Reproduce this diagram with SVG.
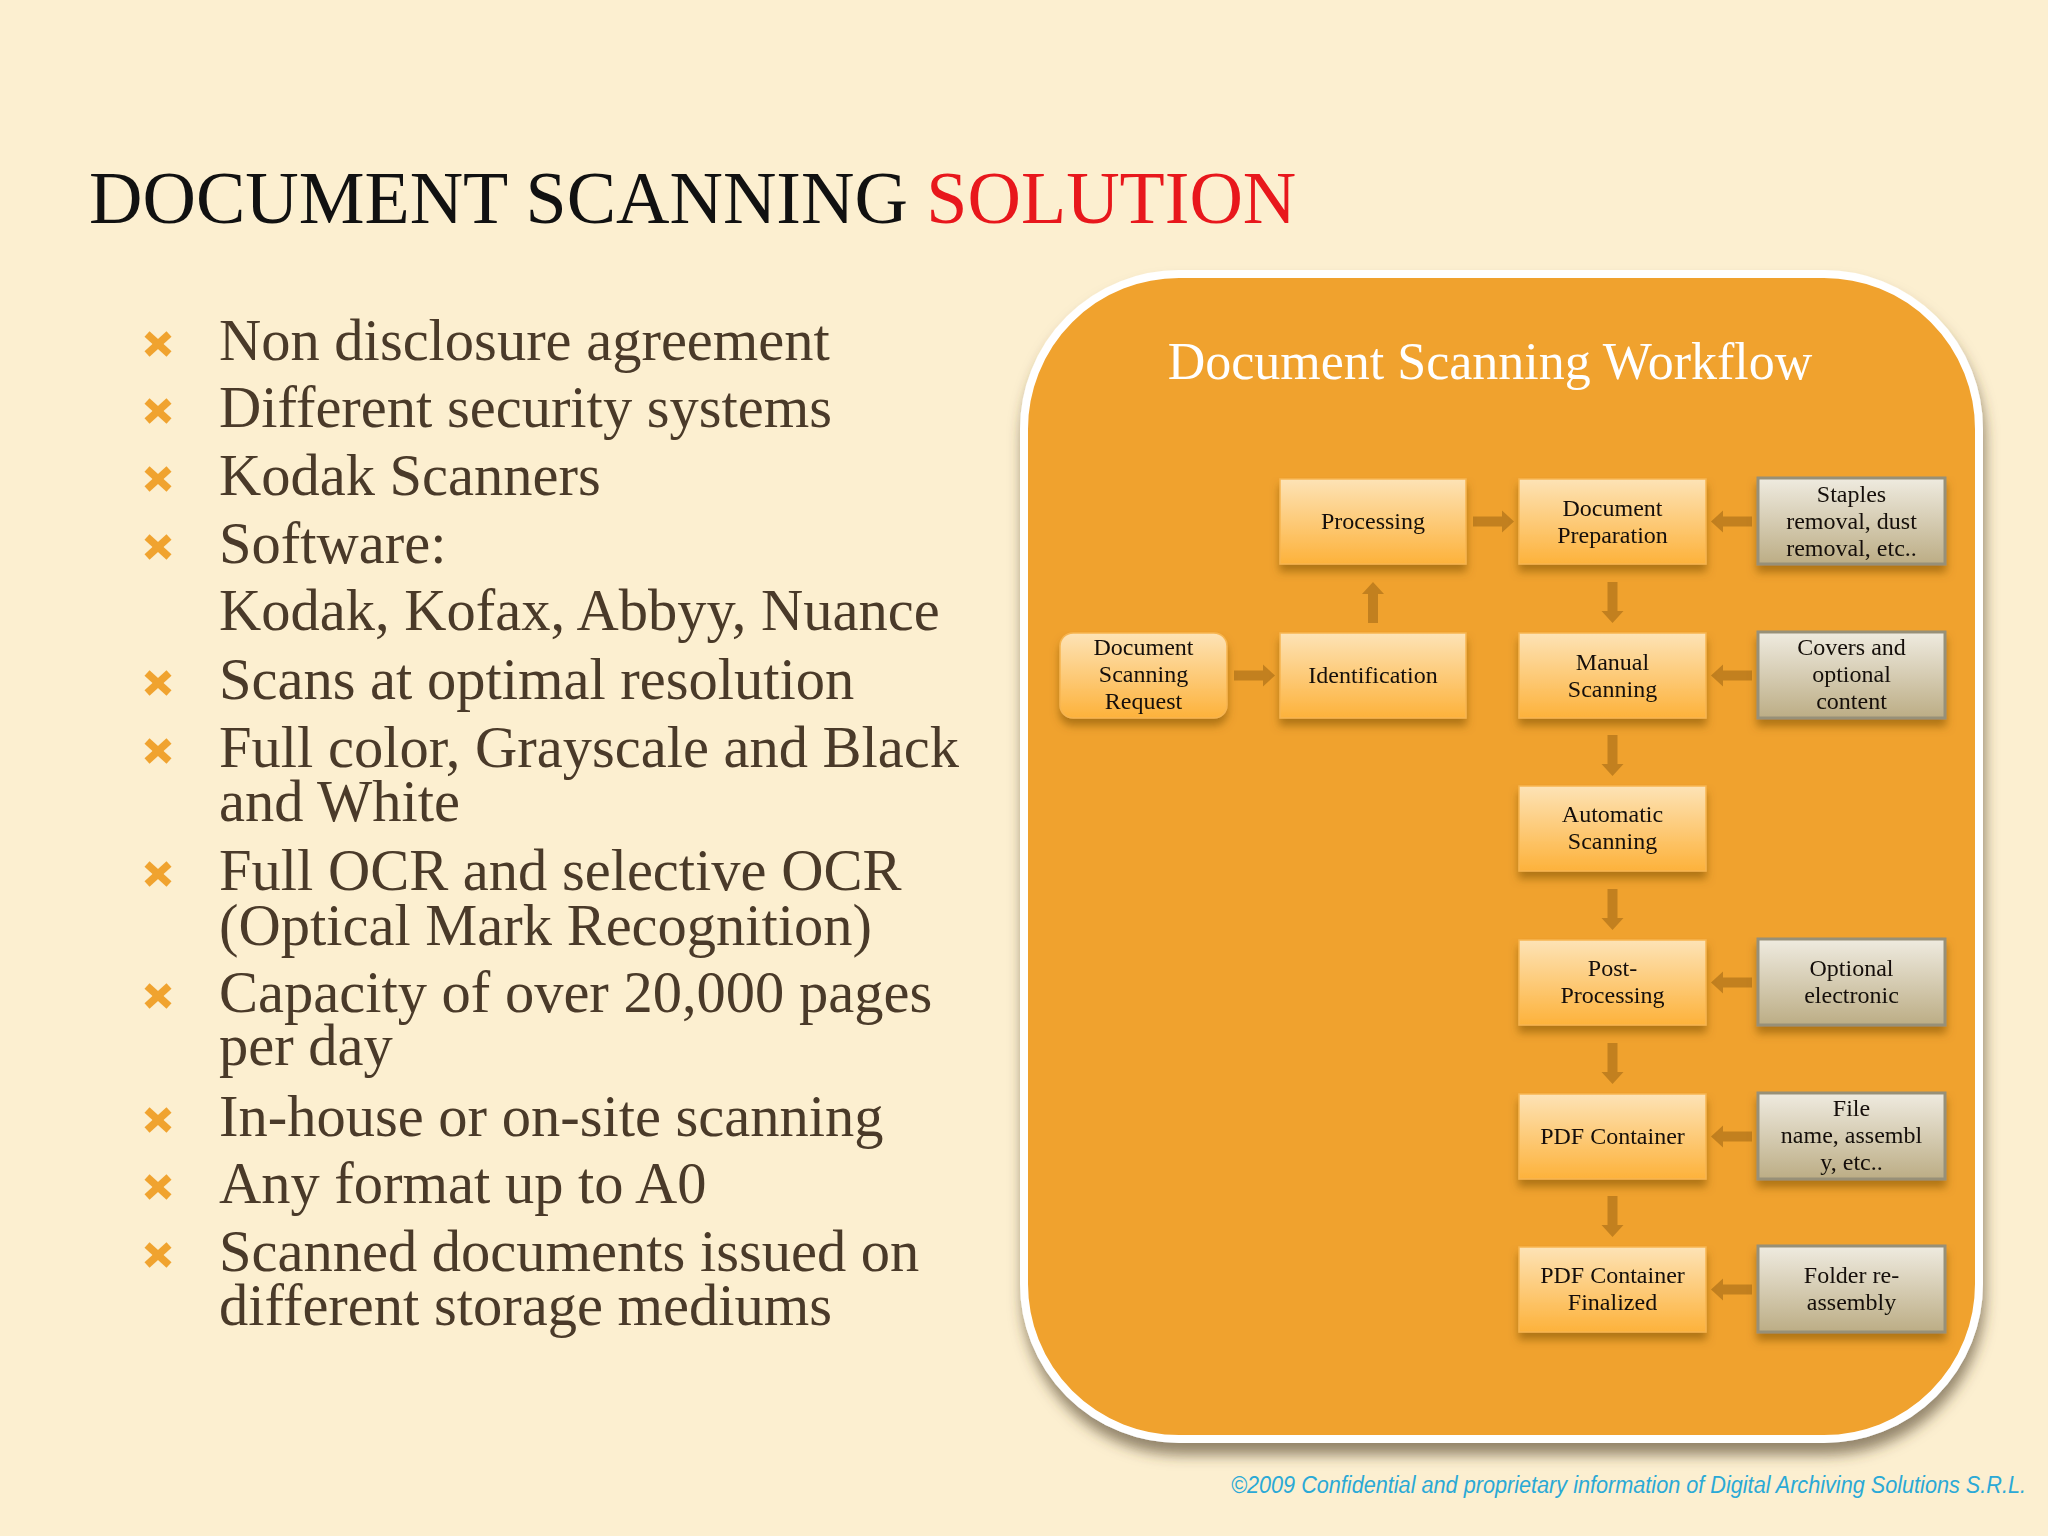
<svg xmlns="http://www.w3.org/2000/svg" xmlns:xlink="http://www.w3.org/1999/xlink" width="2048" height="1536" viewBox="0 0 2048 1536">
<defs>
<linearGradient id="gOrange" x1="0" y1="0" x2="0" y2="1">
<stop offset="0" stop-color="#fde3b6"/>
<stop offset="1" stop-color="#fdb23b"/>
</linearGradient>
<linearGradient id="gGray" x1="0" y1="0" x2="0" y2="1">
<stop offset="0" stop-color="#efebe0"/>
<stop offset="1" stop-color="#bcad85"/>
</linearGradient>
<filter id="nodeShadow" x="-10%" y="-10%" width="120%" height="135%">
<feGaussianBlur in="SourceAlpha" stdDeviation="4"/>
<feOffset dx="0" dy="7" result="b"/>
<feFlood flood-color="#7a4f0c" flood-opacity="0.55"/>
<feComposite in2="b" operator="in" result="s"/>
<feMerge><feMergeNode in="s"/><feMergeNode in="SourceGraphic"/></feMerge>
</filter>
<filter id="panelShadow" x="-5%" y="-5%" width="110%" height="110%">
<feGaussianBlur in="SourceAlpha" stdDeviation="7"/>
<feOffset dx="2" dy="12" result="b"/>
<feFlood flood-color="#4e3f28" flood-opacity="0.6"/>
<feComposite in2="b" operator="in" result="s"/>
<feMerge><feMergeNode in="s"/><feMergeNode in="SourceGraphic"/></feMerge>
</filter>
<path id="arrow" d="M0,-5 H29 V-11 L41,0 L29,11 V5 H0 Z"/>
<g id="bx">
<line x1="-11" y1="-10" x2="11" y2="10"/>
<line x1="-11" y1="10" x2="11" y2="-10"/>
</g>
<style>
.title{font-family:"Liberation Serif","Times New Roman",serif;font-size:74px;}
.bul{font-family:"Liberation Serif","Times New Roman",serif;font-size:58.5px;fill:#4a3a29;}
.cross{stroke:#f0a32f;stroke-width:7.5;}
.ptitle{font-family:"Liberation Serif","Times New Roman",serif;font-size:52px;fill:#ffffff;text-anchor:middle;}
.nb{fill:url(#gOrange);stroke:#f7b550;stroke-width:1.5;}
.gb{fill:url(#gGray);stroke:#979078;stroke-width:3;}
.nt{font-family:"Liberation Serif","Times New Roman",serif;font-size:24px;fill:#141008;text-anchor:middle;}
.arr{fill:#c2801f;}
.foot{font-family:"Liberation Sans",Arial,sans-serif;font-style:italic;font-size:23px;fill:#2aa9d6;}
</style>
</defs>

<rect x="0" y="0" width="2048" height="1536" fill="#fcefd0"/>

<g id="title">
<text class="title" x="89" y="223"><tspan fill="#111111">DOCUMENT SCANNING </tspan><tspan fill="#e8171c">SOLUTION</tspan></text>
</g>

<g id="bullets">
<g class="cross">
<use xlink:href="#bx" transform="translate(158,344)"/>
<use xlink:href="#bx" transform="translate(158,411)"/>
<use xlink:href="#bx" transform="translate(158,479)"/>
<use xlink:href="#bx" transform="translate(158,547)"/>
<use xlink:href="#bx" transform="translate(158,683)"/>
<use xlink:href="#bx" transform="translate(158,751)"/>
<use xlink:href="#bx" transform="translate(158,874)"/>
<use xlink:href="#bx" transform="translate(158,996)"/>
<use xlink:href="#bx" transform="translate(158,1120)"/>
<use xlink:href="#bx" transform="translate(158,1187)"/>
<use xlink:href="#bx" transform="translate(158,1255)"/>
</g>
<text class="bul" x="219" y="360">Non disclosure agreement</text>
<text class="bul" x="219" y="427">Different security systems</text>
<text class="bul" x="219" y="495">Kodak Scanners</text>
<text class="bul" x="219" y="563">Software:</text>
<text class="bul" x="219" y="630">Kodak, Kofax, Abbyy, Nuance</text>
<text class="bul" x="219" y="699">Scans at optimal resolution</text>
<text class="bul" x="219" y="767">Full color, Grayscale and Black</text>
<text class="bul" x="219" y="821">and White</text>
<text class="bul" x="219" y="890">Full OCR and selective OCR</text>
<text class="bul" x="219" y="945">(Optical Mark Recognition)</text>
<text class="bul" x="219" y="1012">Capacity of over 20,000 pages</text>
<text class="bul" x="219" y="1065">per day</text>
<text class="bul" x="219" y="1136">In-house or on-site scanning</text>
<text class="bul" x="219" y="1203">Any format up to A0</text>
<text class="bul" x="219" y="1271">Scanned documents issued on</text>
<text class="bul" x="219" y="1325">different storage mediums</text>
</g>

<g id="panel">
<rect x="1024" y="274" width="955" height="1165" rx="155" ry="155" fill="#f0a22e" stroke="#ffffff" stroke-width="8" filter="url(#panelShadow)"/>
<text class="ptitle" x="1490" y="379">Document Scanning Workflow</text>
</g>

<g id="connectors" class="arr">
<use xlink:href="#arrow" transform="translate(1473,521.5)"/>
<use xlink:href="#arrow" transform="translate(1234,675.5)"/>
<use xlink:href="#arrow" transform="translate(1373,623) rotate(-90)"/>
<use xlink:href="#arrow" transform="translate(1752,521.5) rotate(180)"/>
<use xlink:href="#arrow" transform="translate(1752,675.5) rotate(180)"/>
<use xlink:href="#arrow" transform="translate(1752,982.5) rotate(180)"/>
<use xlink:href="#arrow" transform="translate(1752,1136.5) rotate(180)"/>
<use xlink:href="#arrow" transform="translate(1752,1289.5) rotate(180)"/>
<use xlink:href="#arrow" transform="translate(1612.5,582) rotate(90)"/>
<use xlink:href="#arrow" transform="translate(1612.5,735) rotate(90)"/>
<use xlink:href="#arrow" transform="translate(1612.5,889) rotate(90)"/>
<use xlink:href="#arrow" transform="translate(1612.5,1043) rotate(90)"/>
<use xlink:href="#arrow" transform="translate(1612.5,1196) rotate(90)"/>
</g>

<g id="node-processing" filter="url(#nodeShadow)">
<rect class="nb" x="1280" y="479" width="186" height="85"/>
<text class="nt" x="1373" y="529">Processing</text>
</g>
<g id="node-docprep" filter="url(#nodeShadow)">
<rect class="nb" x="1519" y="479" width="187" height="85"/>
<text class="nt" x="1612.5" y="516">Document</text>
<text class="nt" x="1612.5" y="543">Preparation</text>
</g>
<g id="node-staples" filter="url(#nodeShadow)">
<rect class="gb" x="1758" y="478" width="187" height="86"/>
<text class="nt" x="1851.5" y="502">Staples</text>
<text class="nt" x="1851.5" y="529">removal, dust</text>
<text class="nt" x="1851.5" y="556">removal, etc..</text>
</g>
<g id="node-request" filter="url(#nodeShadow)">
<rect class="nb" x="1060" y="633" width="167" height="85" rx="13" ry="13"/>
<text class="nt" x="1143.5" y="655">Document</text>
<text class="nt" x="1143.5" y="682">Scanning</text>
<text class="nt" x="1143.5" y="709">Request</text>
</g>
<g id="node-identification" filter="url(#nodeShadow)">
<rect class="nb" x="1280" y="633" width="186" height="85"/>
<text class="nt" x="1373" y="683">Identification</text>
</g>
<g id="node-manual" filter="url(#nodeShadow)">
<rect class="nb" x="1519" y="633" width="187" height="85"/>
<text class="nt" x="1612.5" y="670">Manual</text>
<text class="nt" x="1612.5" y="697">Scanning</text>
</g>
<g id="node-covers" filter="url(#nodeShadow)">
<rect class="gb" x="1758" y="632" width="187" height="86"/>
<text class="nt" x="1851.5" y="655">Covers and</text>
<text class="nt" x="1851.5" y="682">optional</text>
<text class="nt" x="1851.5" y="709">content</text>
</g>
<g id="node-automatic" filter="url(#nodeShadow)">
<rect class="nb" x="1519" y="786" width="187" height="85"/>
<text class="nt" x="1612.5" y="822">Automatic</text>
<text class="nt" x="1612.5" y="849">Scanning</text>
</g>
<g id="node-post" filter="url(#nodeShadow)">
<rect class="nb" x="1519" y="940" width="187" height="85"/>
<text class="nt" x="1612.5" y="976">Post-</text>
<text class="nt" x="1612.5" y="1003">Processing</text>
</g>
<g id="node-optional" filter="url(#nodeShadow)">
<rect class="gb" x="1758" y="939" width="187" height="86"/>
<text class="nt" x="1851.5" y="976">Optional</text>
<text class="nt" x="1851.5" y="1003">electronic</text>
</g>
<g id="node-pdf" filter="url(#nodeShadow)">
<rect class="nb" x="1519" y="1094" width="187" height="85"/>
<text class="nt" x="1612.5" y="1144">PDF Container</text>
</g>
<g id="node-filename" filter="url(#nodeShadow)">
<rect class="gb" x="1758" y="1093" width="187" height="86"/>
<text class="nt" x="1851.5" y="1116">File</text>
<text class="nt" x="1851.5" y="1143">name, assembl</text>
<text class="nt" x="1851.5" y="1170">y, etc..</text>
</g>
<g id="node-pdffinal" filter="url(#nodeShadow)">
<rect class="nb" x="1519" y="1247" width="187" height="85"/>
<text class="nt" x="1612.5" y="1283">PDF Container</text>
<text class="nt" x="1612.5" y="1310">Finalized</text>
</g>
<g id="node-folder" filter="url(#nodeShadow)">
<rect class="gb" x="1758" y="1246" width="187" height="86"/>
<text class="nt" x="1851.5" y="1283">Folder re-</text>
<text class="nt" x="1851.5" y="1310">assembly</text>
</g>

<g id="footer">
<text class="foot" x="1231" y="1493" textLength="795" lengthAdjust="spacingAndGlyphs">©2009 Confidential and proprietary information of Digital Archiving Solutions S.R.L.</text>
</g>
</svg>
